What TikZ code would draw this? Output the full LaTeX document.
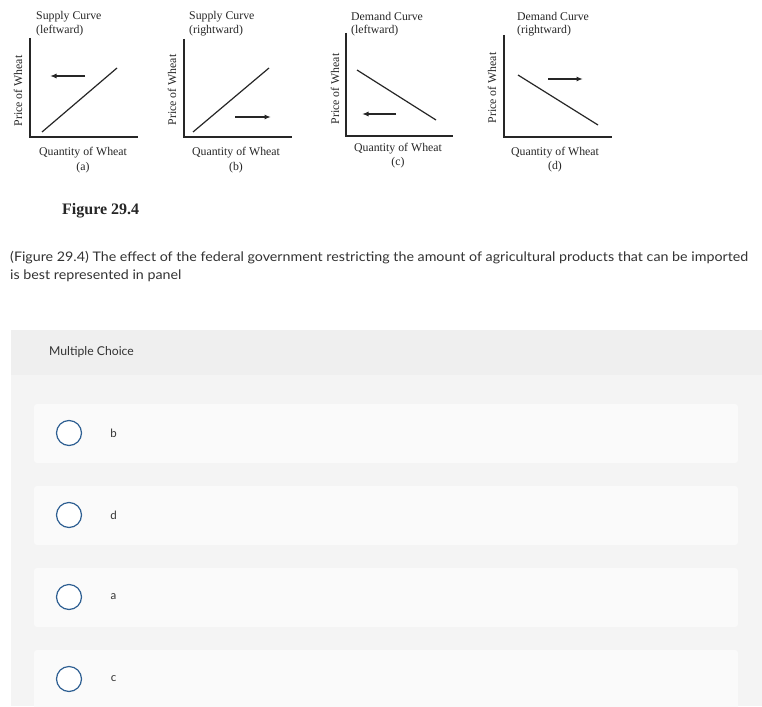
\documentclass[tikz,border=0pt]{standalone}
\usepackage{fontspec}
\setmainfont{Liberation Serif}
\newfontfamily\uifont{Lato}
\newfontfamily\uiwide[FakeStretch=1.08]{Lato}
\usetikzlibrary{arrows.meta}
\definecolor{hdrgray}{HTML}{EFEFEF}
\definecolor{bodygray}{HTML}{F4F4F4}
\definecolor{boxgray}{HTML}{FAFAFA}
\definecolor{ringblue}{HTML}{2E5F92}
\definecolor{uitext}{HTML}{333333}
\tikzset{
  paneltext/.style={inner sep=0pt, font=\fontsize{11.8}{14}\selectfont, text=black!85},
  axisline/.style={line width=1.5pt, black!85},
  curve/.style={line width=1.2pt, black!85},
  shiftarrow/.style={line width=1.3pt, black!85, -{Latex[length=6.5pt,width=5pt]}},
  uitxt/.style={inner sep=0pt, font=\uiwide\fontsize{13.2}{16}\selectfont, text=uitext},
  choicebox/.style={fill=boxgray, rounded corners=3pt, draw=none},
  ring/.style={draw=ringblue, line width=1.2pt, fill=white, circle, minimum size=25pt, inner sep=0pt},
  lettertxt/.style={inner sep=0pt, font=\uifont\fontsize{11.5}{14}\selectfont, text=uitext},
}
\begin{document}
\begin{tikzpicture}[x=1pt,y=-1pt]
\useasboundingbox (0,0) rectangle (762,706);
\fill[white] (0,0) rectangle (762,706);

% ---------- Panel (a) ----------
\node[paneltext, anchor=west] (ta1) at (36,16.5) {Supply Curve};
\node[paneltext, anchor=west] (ta2) at (36,31) {(leftward)};
\node[paneltext, rotate=90] (ya) at (18,91) {Price of Wheat};
\coordinate (a0) at (30,137);
\draw[axisline] (30,38) -- (a0) -- (138,137);
\draw[curve] (42,132) -- (117,68);
\draw[shiftarrow] (85,76) -- (50,76);
\node[paneltext] (xa) at (83,153) {Quantity of Wheat};
\node[paneltext] (la) at (83,168) {(a)};

% ---------- Panel (b) ----------
\node[paneltext, anchor=west] (tb1) at (189,16.5) {Supply Curve};
\node[paneltext, anchor=west] (tb2) at (189,31) {(rightward)};
\node[paneltext, rotate=90] (yb) at (172,90) {Price of Wheat};
\coordinate (b0) at (184,137);
\draw[axisline] (184,39) -- (b0) -- (292,137);
\draw[curve] (193,132) -- (269,68);
\draw[shiftarrow] (235,117) -- (271,117);
\node[paneltext] (xb) at (236,153) {Quantity of Wheat};
\node[paneltext] (lb) at (236,168) {(b)};

% ---------- Panel (c) ----------
\node[paneltext, anchor=west] (tc1) at (351,16.5) {Demand Curve};
\node[paneltext, anchor=west] (tc2) at (351,31) {(leftward)};
\node[paneltext, rotate=90] (yc) at (335,89) {Price of Wheat};
\coordinate (c0) at (346,136);
\draw[axisline] (346,33) -- (c0) -- (453,136);
\draw[curve] (357,70) -- (436,120);
\draw[shiftarrow] (396,114) -- (362,114);
\node[paneltext] (xc) at (398,149) {Quantity of Wheat};
\node[paneltext] (lc) at (398,163) {(c)};

% ---------- Panel (d) ----------
\node[paneltext, anchor=west] (td1) at (517,16.5) {Demand Curve};
\node[paneltext, anchor=west] (td2) at (517,31) {(rightward)};
\node[paneltext, rotate=90] (yd) at (492,88) {Price of Wheat};
\coordinate (d0) at (504,137);
\draw[axisline] (504,35) -- (d0) -- (612,137);
\draw[curve] (518,75) -- (598,125);
\draw[shiftarrow] (548,79) -- (583,79);
\node[paneltext] (xd) at (555,153) {Quantity of Wheat};
\node[paneltext] (ld) at (555,167) {(d)};

% ---------- Caption ----------
\node[inner sep=0pt, anchor=west, font=\bfseries\fontsize{16}{19}\selectfont, text=black!85] (fig) at (62,211) {Figure 29.4};

% ---------- Question ----------
\node[uitxt, anchor=west] (q1) at (10,258) {(Figure 29.4) The effect of the federal government restricting the amount of agricultural products that can be imported};
\node[uitxt, anchor=west] (q2) at (10,276) {is best represented in panel};

% ---------- Multiple choice panel ----------
\fill[bodygray] (11,375) rectangle (762,706);
\fill[hdrgray] (11,330) rectangle (762,375);
\node[lettertxt, anchor=west, font=\uifont\fontsize{12.2}{14}\selectfont] (mc) at (49,352) {Multiple Choice};

\foreach \yy/\lab/\nm in {404/b/1, 486/d/2, 568/a/3, 650/c/4}{
  \fill[choicebox] (34,\yy) rectangle (738,\yy+59);
  \node[ring] (r\nm) at (69,\yy+29) {};
  \node[lettertxt] (o\nm) at (113.5,\yy+29) {\lab};
}
\end{tikzpicture}
\end{document}
